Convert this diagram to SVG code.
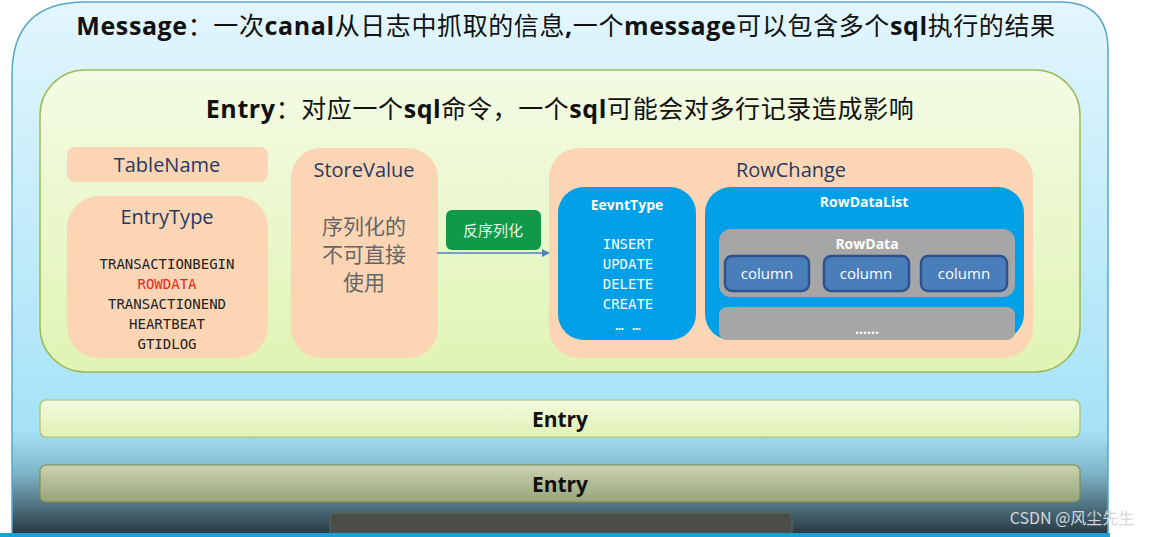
<svg xmlns="http://www.w3.org/2000/svg" width="1156" height="537" viewBox="0 0 1156 537">
<defs>
<linearGradient id="gMsg" x1="0" y1="0" x2="0" y2="1">
<stop offset="0" stop-color="#e3f6fd"/><stop offset="0.8" stop-color="#a6e2f7"/><stop offset="0.88" stop-color="#7fb5c9"/><stop offset="1" stop-color="#22323c"/>
</linearGradient>
<linearGradient id="gEntry" x1="0" y1="0" x2="0" y2="1">
<stop offset="0" stop-color="#f4fbe4"/><stop offset="1" stop-color="#e0f4b4"/>
</linearGradient>
<linearGradient id="gBar1" x1="0" y1="0" x2="0" y2="1">
<stop offset="0" stop-color="#f3fadf"/><stop offset="1" stop-color="#e0f2b4"/>
</linearGradient>
<linearGradient id="gBar2" x1="0" y1="0" x2="0" y2="1">
<stop offset="0" stop-color="#ccd3b2"/><stop offset="1" stop-color="#98a47a"/>
</linearGradient>
<marker id="arr" markerWidth="8" markerHeight="8" refX="7" refY="4" orient="auto" markerUnits="userSpaceOnUse"><path d="M0,0 L8,4 L0,8 Z" fill="#4f81bd"/></marker>
<style>
.t{font-family:"Open Sans","Noto Sans CJK SC",sans-serif}
.cjk{font-family:"Noto Sans CJK SC",sans-serif}
.n{font-weight:normal;font-family:"Noto Sans CJK SC",sans-serif}
.peach{fill:#fcd5b5}
.blue{fill:#00a0e9}
.gray{fill:#a6a6a6}
.col{fill:#4a7ebb;stroke:#2f528f;stroke-width:2.5}
.mono{font-family:"DejaVu Sans Mono",monospace;font-size:14px;text-anchor:middle}
.hdr{font-size:20px;fill:#1f3b64;text-anchor:middle}
</style>
</defs>
<rect width="1156" height="537" fill="#ffffff"/>
<g id="message">
<path d="M12,537 V75 Q12,2 85,2 H1060 Q1108,2 1108,50 V537 Z" fill="url(#gMsg)" stroke="#5aa7c8" stroke-width="1.5"/>
<text x="566" y="35" class="t" font-size="25" font-weight="bold" text-anchor="middle" fill="#111" letter-spacing="0.6">Message<tspan class="n">：一次</tspan>canal<tspan class="n">从日志中抓取的信息</tspan>,<tspan class="n">一个</tspan>message<tspan class="n">可以包含多个</tspan>sql<tspan class="n">执行的结果</tspan></text>
</g>
<g id="entry">
<rect x="40" y="70" width="1040" height="302" rx="45" fill="url(#gEntry)" stroke="#9bbb59" stroke-width="1.5"/>
<text x="560" y="118" class="t" font-size="25" font-weight="bold" text-anchor="middle" fill="#111" letter-spacing="0.6">Entry<tspan class="n">：对应一个</tspan>sql<tspan class="n">命令，一个</tspan>sql<tspan class="n">可能会对多行记录造成影响</tspan></text>
</g>
<g id="tablename">
<rect x="67" y="147" width="201" height="35" rx="8" class="peach"/>
<text x="167" y="172" class="t hdr">TableName</text>
</g>
<g id="entrytype">
<rect x="67" y="196" width="201" height="162" rx="32" class="peach"/>
<text x="167" y="224" class="t hdr">EntryType</text>
<text x="167" y="269" class="mono" fill="#222">TRANSACTIONBEGIN</text>
<text x="167" y="289" class="mono" fill="#e8261c">ROWDATA</text>
<text x="167" y="309" class="mono" fill="#222">TRANSACTIONEND</text>
<text x="167" y="329" class="mono" fill="#222">HEARTBEAT</text>
<text x="167" y="349" class="mono" fill="#222">GTIDLOG</text>
</g>
<g id="storevalue">
<rect x="291" y="148" width="147" height="210" rx="30" class="peach"/>
<text x="364" y="177" class="t hdr">StoreValue</text>
<text x="364" y="234" class="cjk" font-size="21" text-anchor="middle" fill="#666">序列化的</text>
<text x="364" y="262" class="cjk" font-size="21" text-anchor="middle" fill="#666">不可直接</text>
<text x="364" y="290" class="cjk" font-size="21" text-anchor="middle" fill="#666">使用</text>
</g>
<g id="deserialize">
<rect x="446" y="210" width="95" height="40" rx="6" fill="#0e9a48"/>
<text x="493" y="236" class="cjk" font-size="15" text-anchor="middle" fill="#e8f5e8">反序列化</text>
</g>
<g id="connectors">
<line x1="437" y1="253" x2="549" y2="253" stroke="#4f81bd" stroke-width="1.5" marker-end="url(#arr)"/>
</g>
<g id="rowchange">
<rect x="549" y="148" width="484" height="210" rx="30" class="peach"/>
<text x="791" y="177" class="t hdr">RowChange</text>
</g>
<g id="eventtype">
<rect x="558" y="187" width="138" height="153" rx="26" class="blue"/>
<text x="627" y="210" class="t" font-size="14" font-weight="bold" text-anchor="middle" fill="#fff">EevntType</text>
<text x="628" y="249" class="mono" fill="#fff">INSERT</text>
<text x="628" y="269" class="mono" fill="#fff">UPDATE</text>
<text x="628" y="289" class="mono" fill="#fff">DELETE</text>
<text x="628" y="309" class="mono" fill="#fff">CREATE</text>
<text x="628" y="330" class="mono" fill="#fff" font-size="11">… …</text>
</g>
<g id="rowdatalist">
<rect x="705" y="187" width="319" height="153" rx="26" class="blue"/>
<text x="864" y="207" class="t" font-size="14" font-weight="bold" text-anchor="middle" fill="#fff">RowDataList</text>
</g>
<g id="rowdata">
<rect x="719" y="229" width="296" height="68" rx="12" class="gray"/>
<text x="867" y="249" class="t" font-size="14" font-weight="bold" text-anchor="middle" fill="#fff">RowData</text>
</g>
<g id="column1"><rect x="725" y="256" width="84" height="35" rx="7" class="col"/><text x="767" y="279" class="t" font-size="15" text-anchor="middle" fill="#fff">column</text></g>
<g id="column2"><rect x="824" y="256" width="85" height="35" rx="7" class="col"/><text x="866" y="279" class="t" font-size="15" text-anchor="middle" fill="#fff">column</text></g>
<g id="column3"><rect x="921" y="256" width="86" height="35" rx="7" class="col"/><text x="964" y="279" class="t" font-size="15" text-anchor="middle" fill="#fff">column</text></g>
<g id="more">
<rect x="719" y="307" width="296" height="33" rx="8" class="gray"/>
<text x="867" y="334" class="t" font-size="14" font-weight="bold" text-anchor="middle" fill="#fff">……</text>
</g>
<g id="entry2">
<rect x="40" y="400" width="1040" height="37" rx="6" fill="url(#gBar1)" stroke="#a5c06a" stroke-width="1.2"/>
<text x="560" y="427" class="t" font-size="21" font-weight="bold" text-anchor="middle" fill="#111">Entry</text>
</g>
<g id="entry3">
<rect x="40" y="465" width="1040" height="37" rx="6" fill="url(#gBar2)" stroke="#7d8f55" stroke-width="1.2"/>
<text x="560" y="492" class="t" font-size="21" font-weight="bold" text-anchor="middle" fill="#111">Entry</text>
</g>
<g id="entry4">
<rect x="330" y="513" width="462" height="30" rx="5" fill="#4a4d48" stroke="#5e6a52" stroke-width="1"/>
</g>
<rect x="0" y="533" width="1110" height="4" fill="#1aa0d8"/>
<text x="1072" y="524" font-family="'Noto Sans CJK SC',sans-serif" font-size="16" text-anchor="middle" fill="#d8d8d8">CSDN @风尘先生</text>
</svg>
